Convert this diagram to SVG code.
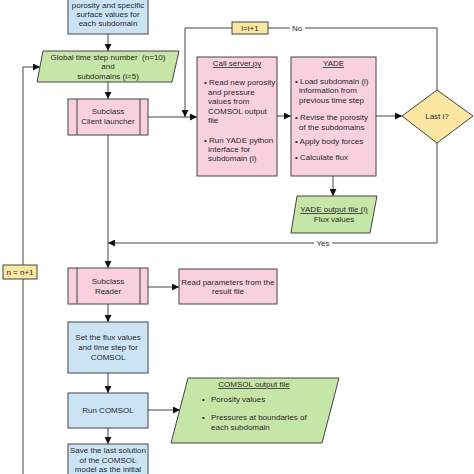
<svg xmlns="http://www.w3.org/2000/svg" width="474" height="474" viewBox="0 0 474 474">
<defs>
<marker id="ah" viewBox="0 0 10 10" refX="10" refY="5" markerWidth="7" markerHeight="7" markerUnits="userSpaceOnUse" orient="auto"><path d="M0,0 L10,5 L0,10 z" fill="#111"/></marker>
<style>
text{font-family:"Liberation Sans",Arial,sans-serif;font-size:8px;fill:#2a2a2a;}
.c{text-anchor:middle;}
.u{text-decoration:underline;}
.blue{fill:#cae4f6;stroke:#444;stroke-width:1;}
.pink{fill:#f9d0de;stroke:#444;stroke-width:1;}
.green{fill:#c6e6a8;stroke:#444;stroke-width:1;}
.yel{fill:#fbe6a2;stroke:#444;stroke-width:1;}
.ln{fill:none;stroke:#444;stroke-width:1;}
.ar{fill:none;stroke:#444;stroke-width:1;marker-end:url(#ah);}
</style>
</defs>
<rect width="474" height="474" fill="#fff"/>
<g id="connectors">
<path class="ar" d="M108,34 V51"/>
<path class="ar" d="M108,82 V99"/>
<path class="ar" d="M148,117 H197"/>
<path class="ar" d="M437,90 V28 H185 V117"/>
<path class="ar" d="M277,116 H291"/>
<path class="ar" d="M376,116 H402"/>
<path class="ar" d="M333,176 V196"/>
<path class="ar" d="M437,143 V243 H108"/>
<path class="ar" d="M108,135 V268"/>
<path class="ar" d="M148,287 H179"/>
<path class="ar" d="M108,304 V322"/>
<path class="ar" d="M108,373 V393"/>
<path class="ar" d="M148,410 H180"/>
<path class="ar" d="M108,428 V444"/>
<path class="ar" d="M23,474 V67 H40"/>
<rect x="290" y="23" width="15" height="10" fill="#fff"/>
<text x="297" y="31" class="c">No</text>
<rect x="314" y="238" width="18" height="10" fill="#fff"/>
<text x="323" y="246" class="c">Yes</text>
</g>
<g id="init">
<rect class="blue" x="68" y="-20" width="80" height="54"/>
<text class="c" x="108" y="8">porosity and specific</text>
<text class="c" x="108" y="17">surface values for</text>
<text class="c" x="108" y="26">each subdomain</text>
</g>
<g id="global">
<polygon class="green" points="43,51 179,51 172,82 37,82"/>
<text class="c" x="108" y="60">Global time step number &#160;(n=10)</text>
<text class="c" x="108" y="69">and</text>
<text class="c" x="108" y="79">subdomains (i=5)</text>
</g>
<g id="client">
<rect class="pink" x="68" y="99" width="80" height="36"/>
<path class="ln" d="M77,99 V135 M140,99 V135"/>
<text class="c" x="108" y="114">Subclass</text>
<text class="c" x="108" y="124">Client launcher</text>
</g>
<g id="iinc">
<rect class="yel" x="232" y="22" width="36" height="12"/>
<text class="c" x="250" y="31">i=i+1</text>
</g>
<g id="ninc">
<rect class="yel" x="3" y="265" width="34" height="14"/>
<text class="c" x="20" y="275">n = n+1</text>
</g>
<g id="server">
<rect class="pink" x="197" y="57" width="80" height="119"/>
<text class="c u" x="237" y="66">Call server.py</text>
<text x="204" y="85">• Read new porosity</text>
<text x="208" y="95">and pressure</text>
<text x="208" y="104">values from</text>
<text x="208" y="114">COMSOL output</text>
<text x="208" y="123">file</text>
<text x="204" y="143">• Run YADE python</text>
<text x="208" y="152">interface for</text>
<text x="208" y="161">subdomain (i)</text>
</g>
<g id="yade">
<rect class="pink" x="291" y="57" width="85" height="119"/>
<text class="c u" x="333.5" y="66">YADE</text>
<text x="295" y="84">• Load subdomain (i)</text>
<text x="299" y="93">information from</text>
<text x="299" y="103">previous time step</text>
<text x="295" y="120">• Revise the porosity</text>
<text x="299" y="130">of the subdomains</text>
<text x="295" y="144">• Apply body forces</text>
<text x="295" y="160">• Calculate flux</text>
</g>
<g id="lasti">
<polygon class="yel" points="437,90 473,116 437,143 402,116"/>
<text class="c" x="437" y="119">Last i?</text>
</g>
<g id="flux">
<polygon class="green" points="297,196 377,196 370,233 291,233"/>
<text class="c u" x="334" y="212">YADE output file (i)</text>
<text class="c" x="334" y="222">Flux values</text>
</g>
<g id="reader">
<rect class="pink" x="68" y="268" width="80" height="36"/>
<path class="ln" d="M77,268 V304 M140,268 V304"/>
<text class="c" x="108" y="284">Subclass</text>
<text class="c" x="108" y="294">Reader</text>
</g>
<g id="readparams">
<rect class="pink" x="179" y="269" width="98" height="35"/>
<text class="c" x="228" y="285">Read parameters from the</text>
<text class="c" x="228" y="294">result file</text>
</g>
<g id="setflux">
<rect class="blue" x="68" y="322" width="80" height="51"/>
<text class="c" x="108" y="340">Set the flux values</text>
<text class="c" x="108" y="350">and time step for</text>
<text class="c" x="108" y="360">COMSOL</text>
</g>
<g id="run">
<rect class="blue" x="68" y="393" width="80" height="35"/>
<text class="c" x="108" y="413">Run COMSOL</text>
</g>
<g id="comsolout">
<polygon class="green" points="188,378 339,378 322,443 171,443"/>
<text class="c u" x="254" y="387">COMSOL output file</text>
<text x="202" y="402">•</text>
<text x="211" y="402">Porosity values</text>
<text x="202" y="420">•</text>
<text x="211" y="420">Pressures at boundaries of</text>
<text x="211" y="430">each subdomain</text>
</g>
<g id="save">
<rect class="blue" x="68" y="444" width="80" height="40"/>
<text class="c" x="108" y="453">Save the last solution</text>
<text class="c" x="108" y="463">of the COMSOL</text>
<text class="c" x="108" y="472">model as the initial</text>
</g>
</svg>
